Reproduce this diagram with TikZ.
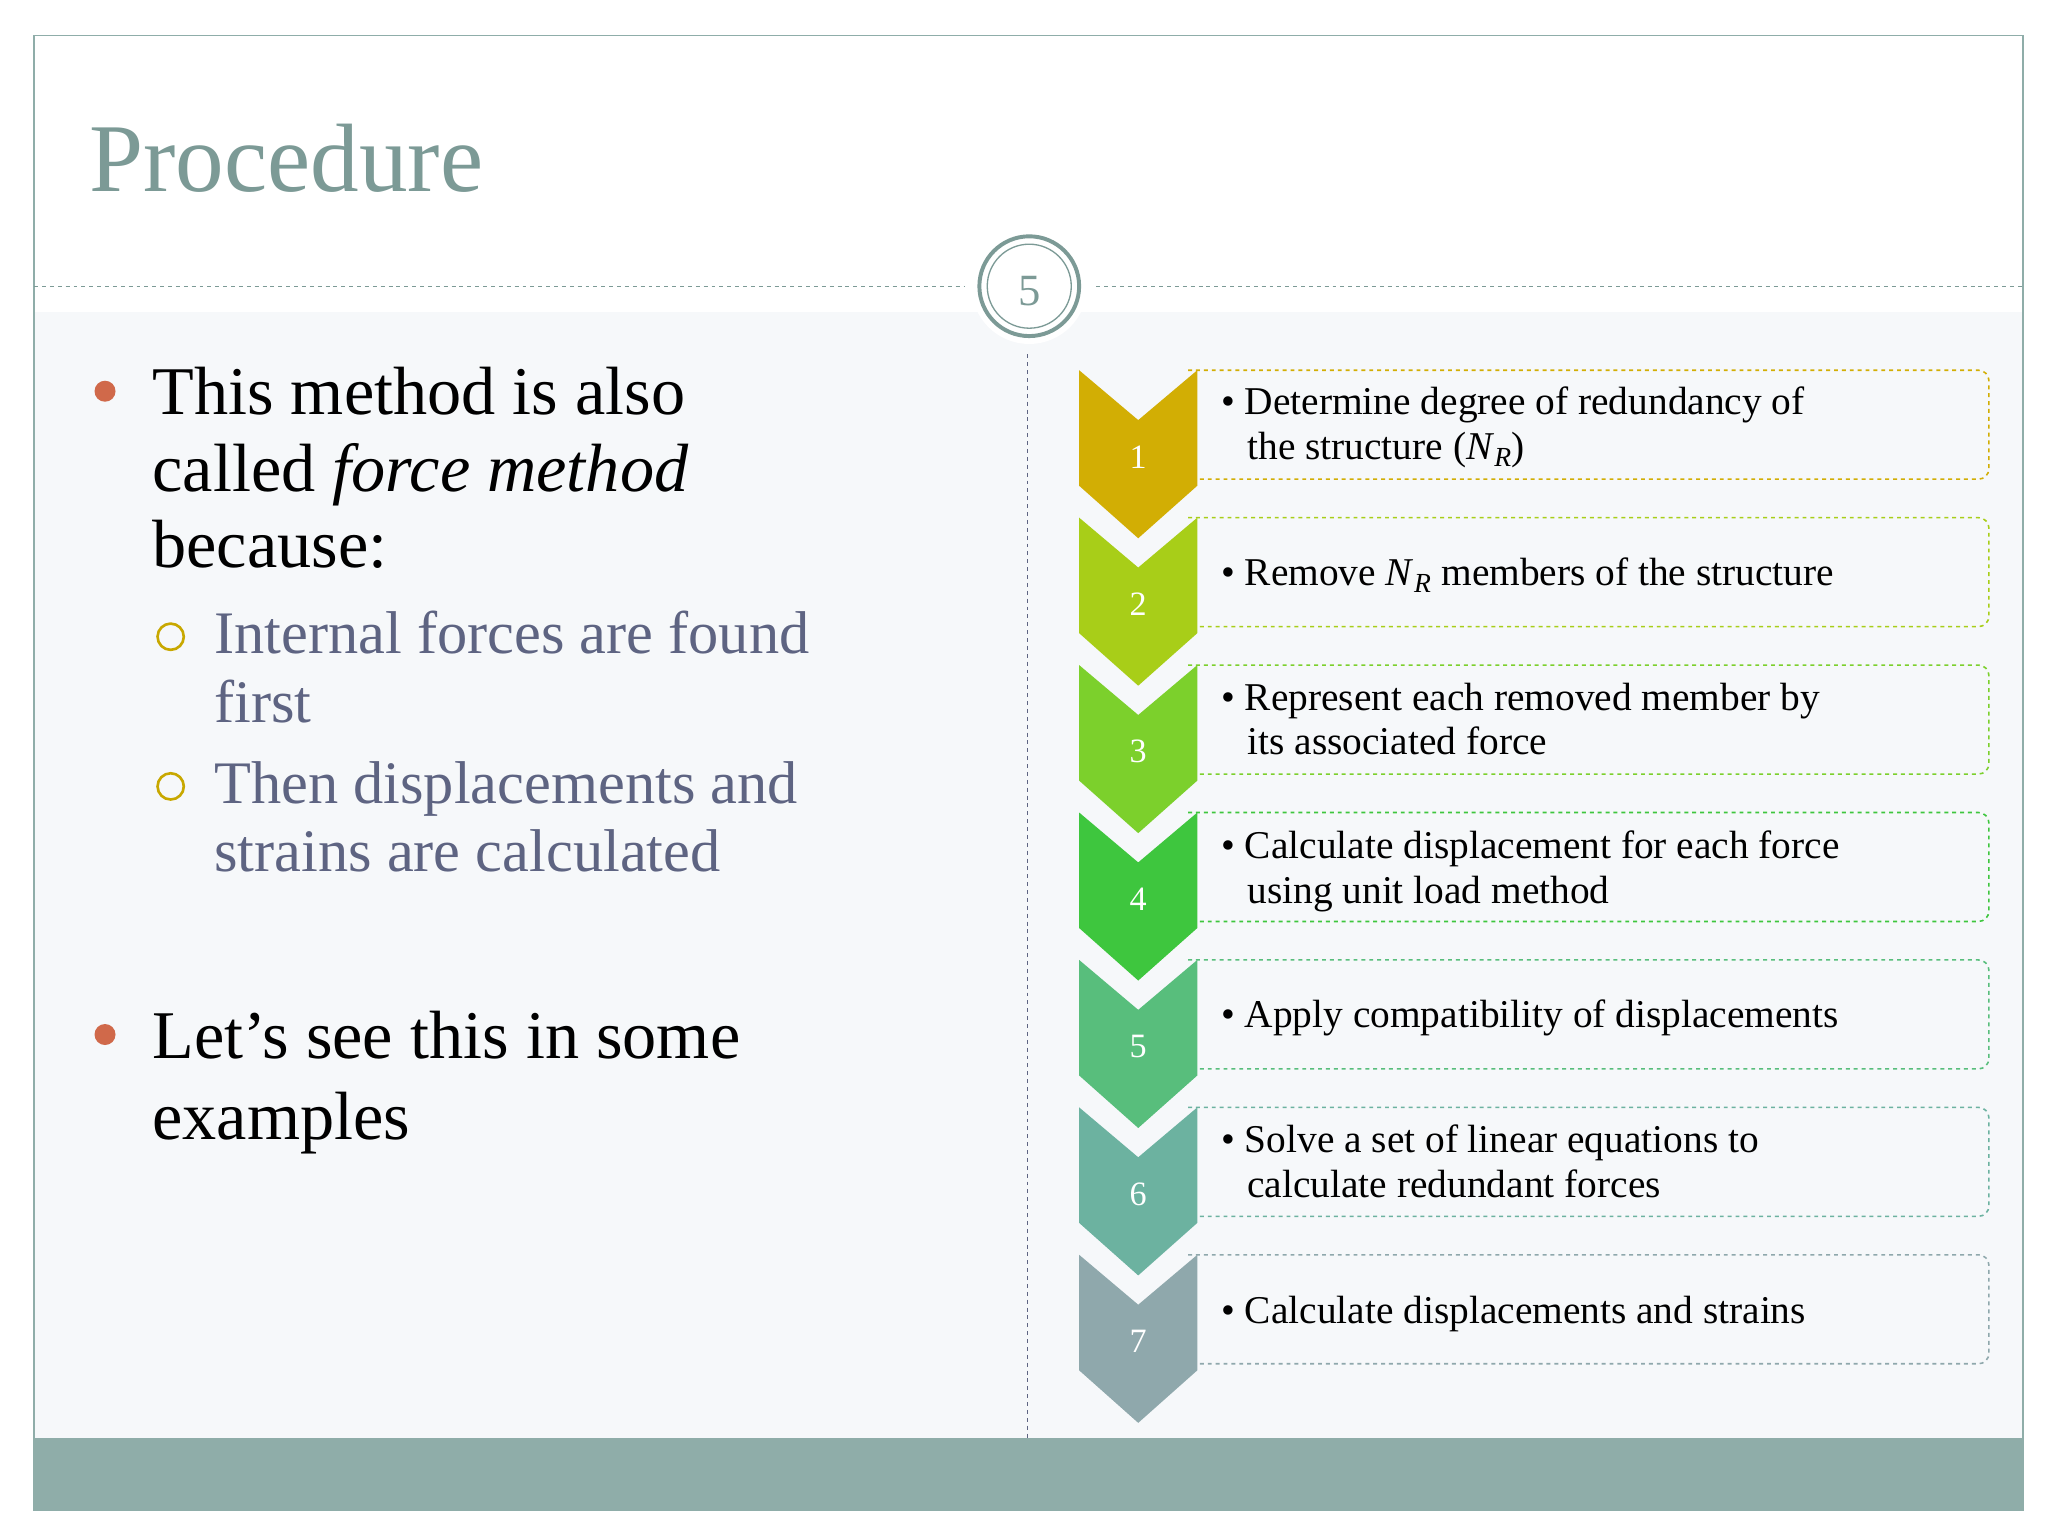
\documentclass[tikz,border=0pt]{standalone}
\usepackage{fontspec}
\setmainfont{Liberation Serif}
\begin{document}
\begin{tikzpicture}[x=1pt,y=-1pt,
  lt/.style={anchor=base west,inner sep=0pt,font=\fontsize{52}{60}\selectfont},
  st/.style={anchor=base west,inner sep=0pt,text=subc,font=\fontsize{46}{52}\selectfont},
  rt/.style={anchor=base west,inner sep=0pt,font=\fontsize{30}{34}\selectfont},
  num/.style={text=white,font=\fontsize{26}{28}\selectfont}]
\definecolor{frame}{HTML}{8FADA9}
\definecolor{titlec}{HTML}{7C9A96}
\definecolor{subc}{HTML}{5E6482}
\definecolor{bul}{HTML}{D0694A}
\definecolor{ring}{HTML}{C8A800}
\definecolor{bg}{HTML}{F6F8FA}
\definecolor{c1}{HTML}{D2AE04}
\definecolor{c2}{HTML}{A8CE18}
\definecolor{c3}{HTML}{7CD02C}
\definecolor{c4}{HTML}{3EC63E}
\definecolor{c5}{HTML}{58BE7C}
\definecolor{c6}{HTML}{6CB2A0}
\definecolor{c7}{HTML}{8FA8AC}
\useasboundingbox (0,0) rectangle (1560,1170);
\fill[white] (0,0) rectangle (1560,1170);
\fill[bg] (26,238) rectangle (1541,1095);
\fill[frame] (26,1095) rectangle (1541,1150);
\draw[frame,line width=1.2] (26,27) rectangle (1541,1150);
\node[anchor=base west,inner sep=0pt,text=titlec,font=\fontsize{74}{80}\selectfont] (title) at (68,146) {Procedure};
\draw[titlec,dashed,line width=0.8] (26,218) -- (735,218) (835,218) -- (1541,218);
\fill[white] (784,218) circle (44);
\draw[titlec,line width=3] (784,218) circle (38);
\draw[titlec,line width=1] (784,218) circle (32);
\node[text=titlec,font=\fontsize{34}{36}\selectfont] (pg) at (784,222) {5};
\draw[subc,dashed,line width=0.8] (783,270) -- (783,1095);
% left
\fill[bul] (80,298) circle (8);
\node[lt] (l1) at (116,316) {This method is also};
\node[lt] (l2) at (116,374) {called \textit{force method}};
\node[lt] (l3) at (116,432) {because:};
\draw[ring,line width=2] (130,485) circle (10);
\node[st] (s1) at (163,498) {Internal forces are found};
\node[st] (s2) at (163,550) {first};
\draw[ring,line width=2] (130,599) circle (10);
\node[st] (s3) at (163,612) {Then displacements and};
\node[st] (s4) at (163,664) {strains are calculated};
\fill[bul] (80,788) circle (8);
\node[lt] (l4) at (116,806) {Let’s see this in some};
\node[lt] (l5) at (116,868) {examples};
% right steps
\foreach \i/\c in {0/c1,1/c2,2/c3,3/c4,4/c5,5/c6,6/c7}{
  \pgfmathsetmacro{\T}{282+112.3*\i}
  \draw[\c,dashed,line width=1.2,rounded corners=8] (905,\T) -- (1515,\T) -- (1515,\T+83) -- (905,\T+83);
  \fill[\c] (822,\T) -- (867,\T+38) -- (912,\T) -- (912,\T+88) -- (867,\T+128) -- (822,\T+88) -- cycle;
  \node[num] at (867,\T+66) {\the\numexpr\i+1\relax};
}
\node[rt] (b1) at (930,316) {• Determine degree of redundancy of};
\node[rt] (b1b) at (950,350) {the structure (\textit{N}\textsubscript{\textit{R}})};
\node[rt] (b2) at (930,446) {• Remove \textit{N}\textsubscript{\textit{R}} members of the structure};
\node[rt] (b3) at (930,541) {• Represent each removed member by};
\node[rt] (b3b) at (950,575) {its associated force};
\node[rt] (b4) at (930,654) {• Calculate displacement for each force};
\node[rt] (b4b) at (950,688) {using unit load method};
\node[rt] (b5) at (930,783) {• Apply compatibility of displacements};
\node[rt] (b6) at (930,878) {• Solve a set of linear equations to};
\node[rt] (b6b) at (950,912) {calculate redundant forces};
\node[rt] (b7) at (930,1008) {• Calculate displacements and strains};
\end{tikzpicture}
\end{document}
